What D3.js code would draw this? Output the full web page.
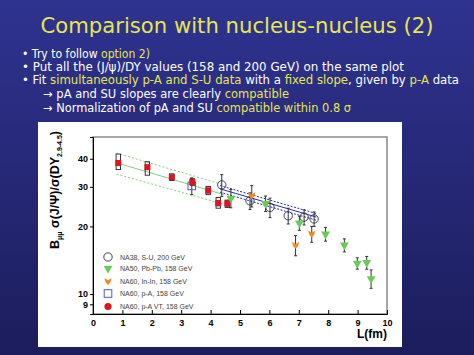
<!DOCTYPE html>
<html><head><meta charset="utf-8">
<script src="https://cdn.jsdelivr.net/npm/d3@7"></script>
<style>body{margin:0;padding:0;overflow:hidden;background:#26296f}svg{display:block}</style>
</head><body>
<svg id="c" width="474" height="355"></svg>
<script>
// ---------- data ----------
const titleText = "Comparison with nucleus-nucleus (2)";
const xTicks = [0,1,2,3,4,5,6,7,8,9,10];
const yTicks = [9,10,20,30,40];

// NA38 S-U 200 GeV (open circles)
const suL   = [4.38, 5.34, 6.02, 6.64, 7.18, 7.52];
const suV   = [30.6, 26.0, 24.3, 22.3, 22.0, 21.6];
const suErr = [3.4, 2.2, 2.4, 1.8, 1.7, 1.6];
// NA50 Pb-Pb 158 GeV (green down triangles)
const pbL   = [4.69, 5.87, 7.02, 7.91, 8.55, 8.99, 9.31, 9.46];
const pbV   = [26.7, 25.3, 20.7, 18.5, 16.5, 13.7, 13.8, 11.7];
const pbErr = [2.5, 2.0, 1.5, 1.3, 1.1, 0.8, 0.9, 1.1];
// NA60 In-In 158 GeV (orange)
const inL   = [5.40, 6.89, 7.44];
const inV   = [27.4, 16.5, 18.5];
const inErr = [3.0, 1.7, 1.5];
// NA60 p-A 158 GeV (open blue squares)
const paL   = [3.36];
const paV   = [30.3];
const paErr = [2.6];
// NA60 p-A VT 158 GeV (red) with syst. boxes
const vtL   = [0.86, 1.85, 2.68, 3.38, 3.92, 4.26, 4.57];
const vtV   = [38.3, 36.7, 33.1, 31.5, 28.9, 25.4, 25.3];
const vtErr = [1.0, 0.8, 0.7, 0.7, 0.7, 0.7, 0.7];
const vtSysLo = [35.8, 33.8, 32.0, 30.5, 27.7, 24.1, 24.3];
const vtSysHi = [42.0, 38.8, 34.3, 32.6, 30.1, 26.9, 26.2];
// fits
const pAFitL = [0.8, 4.45];
const pAFitC = [38.4, 27.7];
const pAFitU = [42.4, 30.6];
const pAFitD = [34.2, 25.1];
const suFitL = [4.32, 7.6];
const suFitC = [29.4, 22.0];
const suFitU = [30.4, 22.8];
const suFitD = [28.4, 21.3];

const legendLabels = ["NA38, S-U, 200 GeV","NA50, Pb-Pb, 158 GeV","NA60, In-In, 158 GeV","NA60, p-A, 158 GeV","NA60, p-A VT, 158 GeV"];

// ---------- drawing ----------
const svg = d3.select("#c");
const defs = svg.append("defs");
const g = defs.append("linearGradient").attr("id","bg").attr("x1",0).attr("y1",0).attr("x2",0).attr("y2",1);
g.append("stop").attr("offset","0%").attr("stop-color","#2f3390");
g.append("stop").attr("offset","100%").attr("stop-color","#1c1d5c");
svg.append("rect").attr("width",474).attr("height",355).attr("fill","url(#bg)");

const YEL = "#e6e650";
svg.append("text").attr("x",237).attr("y",33).attr("text-anchor","middle")
  .attr("font-family","DejaVu Sans, Verdana, sans-serif").attr("font-size",22)
  .attr("fill",YEL).attr("textLength",393).attr("lengthAdjust","spacingAndGlyphs").text(titleText);

const lines = [
  {x:22, y:58, parts:[["• Try to follow ","#fff"],["option 2)",YEL]], w:128},
  {x:22, y:71, parts:[["• Put all the (J/ψ)/DY values (158 and 200 GeV) on the same plot","#fff"]], w:382},
  {x:22, y:84, parts:[["• Fit ","#fff"],["simultaneously p-A and S-U data",YEL],[" with a ","#fff"],["fixed slope",YEL],[", given by ","#fff"],["p-A",YEL],[" data","#fff"]], w:437},
  {x:43, y:98, parts:[["→ pA and SU slopes are clearly ","#fff"],["compatible",YEL]], w:246},
  {x:43, y:112, parts:[["→ Normalization of pA and SU ","#fff"],["compatible within 0.8 σ",YEL]], w:308}
];
lines.forEach(l=>{
  const t = svg.append("text").attr("x",l.x).attr("y",l.y)
    .attr("font-family","DejaVu Sans, Verdana, sans-serif").attr("font-size",11.5)
    .attr("textLength",l.w).attr("lengthAdjust","spacingAndGlyphs");
  l.parts.forEach(p=>t.append("tspan").attr("fill",p[1]).attr("xml:space","preserve").text(p[0]));
});

// white panel
svg.append("rect").attr("x",38).attr("y",122).attr("width",364).attr("height",225).attr("fill","#fff");

const x = d3.scaleLinear().domain([0,10]).range([93,387]);
const y = d3.scaleLog().domain([8.15,50]).range([314,137]);

// frame
svg.append("rect").attr("x",93).attr("y",137).attr("width",294).attr("height",177)
  .attr("fill","none").attr("stroke","#8a8a8a").attr("stroke-width",1.5);

// x axis
const xAx = svg.append("g").attr("transform","translate(0,314)");
xAx.call(d3.axisBottom(x).tickValues(d3.range(0,10.01,0.2)).tickSize(-2).tickFormat(""))
  .call(s=>s.select(".domain").remove());
xAx.call(d3.axisBottom(x).tickValues(xTicks).tickSize(-4).tickPadding(6).tickFormat(d3.format("d")))
  .call(s=>s.select(".domain").attr("stroke","#000"))
  .call(s=>s.selectAll("text").attr("font-family","Liberation Sans, Arial, sans-serif").attr("font-weight","bold").attr("font-size",9).attr("fill","#000"));
xAx.selectAll("line").attr("stroke","#000");

// y axis
const yAx = svg.append("g").attr("transform","translate(93,0)");
yAx.call(d3.axisLeft(y).tickValues(yTicks).tickSize(3).tickPadding(2).tickFormat(d3.format("d")))
  .call(s=>s.select(".domain").attr("stroke","#000"))
  .call(s=>s.selectAll("text").attr("font-family","Liberation Sans, Arial, sans-serif").attr("font-weight","bold").attr("font-size",9).attr("fill","#000"));
yAx.selectAll("line").attr("stroke","#000");

// axis titles
svg.append("text").attr("x",387).attr("y",338).attr("text-anchor","end")
  .attr("font-family","Liberation Sans, Arial, sans-serif").attr("font-weight","bold").attr("font-size",12).text("L(fm)");
const yt = svg.append("text").attr("transform","translate(58.5,249) rotate(-90)")
  .attr("font-family","Liberation Sans, Arial, sans-serif").attr("font-weight","bold").attr("font-size",12.5).attr("fill","#000");
yt.append("tspan").text("B");
yt.append("tspan").attr("font-size",7).attr("dy",3).text("μμ");
yt.append("tspan").attr("dy",-3).text(" σ(J/Ψ)/σ(DY");
yt.append("tspan").attr("font-size",7).attr("dy",3).text("2.9-4.5");
yt.append("tspan").attr("dy",-3).text(")");

// fit lines
const line = d3.line().x(d=>x(d[0])).y(d=>y(d[1]));
function drawFit(L, V, col, dash, w){
  svg.append("path").attr("d", line(L.map((l,i)=>[l,V[i]]))).attr("fill","none")
    .attr("stroke",col).attr("stroke-width",w).attr("stroke-dasharray",dash);
}
drawFit(pAFitL,pAFitC,"#7fcf7f",null,1);
drawFit(pAFitL,pAFitU,"#7fcf7f","2,2",1);
drawFit(pAFitL,pAFitD,"#7fcf7f","2,2",1);
drawFit(suFitL,suFitC,"#2b2ba0",null,1);
drawFit(suFitL,suFitU,"#2b2ba0","2,1.5",1);
drawFit(suFitL,suFitD,"#2b2ba0","2,1.5",1);

// error bars
function errs(L,V,E){
  const gg = svg.append("g").attr("stroke","#333").attr("stroke-width",1);
  L.forEach((l,i)=>{
    const cx=x(l), y1=y(V[i]+E[i]), y0=y(V[i]-E[i]);
    gg.append("line").attr("x1",cx).attr("x2",cx).attr("y1",y1).attr("y2",y0);
    gg.append("line").attr("x1",cx-1.5).attr("x2",cx+1.5).attr("y1",y1).attr("y2",y1);
    gg.append("line").attr("x1",cx-1.5).attr("x2",cx+1.5).attr("y1",y0).attr("y2",y0);
  });
}
errs(suL,suV,suErr); errs(pbL,pbV,pbErr); errs(inL,inV,inErr); errs(paL,paV,paErr); errs(vtL,vtV,vtErr);

// syst boxes
svg.append("g").selectAll("rect").data(vtL).join("rect")
  .attr("x",d=>x(d)-2.2).attr("width",4.4)
  .attr("y",(d,i)=>y(vtSysHi[i])).attr("height",(d,i)=>y(vtSysLo[i])-y(vtSysHi[i]))
  .attr("fill","none").attr("stroke","#222").attr("stroke-width",0.9);

// markers
const sym = (type,size)=>d3.symbol().type(type).size(size)();
function markers(L,V,draw){ L.forEach((l,i)=>draw(svg.append("g").attr("transform",`translate(${x(l)},${y(V[i])})`))); }
const drawCircle = s=>s.append("circle").attr("r",4.2).attr("fill","none").attr("stroke","#2a2a55").attr("stroke-width",0.9);
const drawTri = s=>s.append("path").attr("d",sym(d3.symbolTriangle,34)).attr("transform","rotate(180)").attr("fill","#66cc55");
const drawOr = s=>s.append("path").attr("d","M-3.6,-3.4L0,-1.2L3.6,-3.4L2.6,0.6L0,3.6L-2.6,0.6Z").attr("fill","#f08a24");
const drawSq = s=>s.append("rect").attr("x",-3.8).attr("y",-3.8).attr("width",7.6).attr("height",7.6).attr("fill","none").attr("stroke","#5555bb").attr("stroke-width",1);
const drawRed = s=>s.append("rect").attr("x",-3).attr("y",-3).attr("width",6).attr("height",6).attr("fill","#e0141e");
markers(paL,paV,drawSq);
markers(vtL,vtV,drawRed);
markers(suL,suV,drawCircle);
markers(pbL,pbV,drawTri);
markers(inL,inV,drawOr);

// legend
const legY = [257,268.5,281.5,293.5,306.5];
const legDraw = [drawCircle, drawTri, drawOr, drawSq, s=>s.append("circle").attr("r",3.6).attr("fill","#e0141e")];
legendLabels.forEach((t,i)=>{
  legDraw[i](svg.append("g").attr("transform",`translate(108,${legY[i]})`));
  svg.append("text").attr("x",120).attr("y",legY[i]+2.5).attr("font-family","Liberation Sans, Arial, sans-serif")
    .attr("font-size",7).attr("fill","#444").text(t);
});
</script>
</body></html>
